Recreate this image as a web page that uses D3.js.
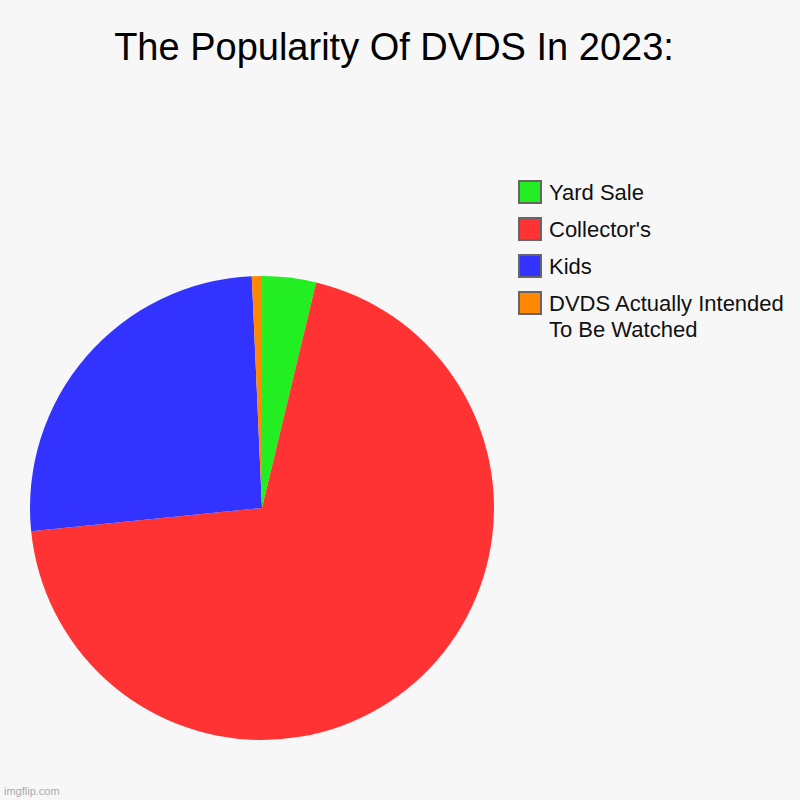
<!DOCTYPE html>
<html>
<head>
<meta charset="utf-8">
<script src="https://cdn.jsdelivr.net/npm/d3@7"></script>
<style>
  html, body { margin: 0; padding: 0; background: #f7f7f7; }
  svg { display: block; font-family: "Liberation Sans", Arial, sans-serif; }
</style>
</head>
<body>
<svg id="chart" width="800" height="800"></svg>
<script>
var categories = ['Yard Sale', "Collector's", 'Kids', 'DVDS Actually Intended To Be Watched']
var legendLines = [['Yard Sale'], ["Collector's"], ['Kids'], ['DVDS Actually Intended', 'To Be Watched']]
var values = [3.75, 69.65, 25.9, 0.7]
var colors = ['#22ee22', '#ff3333', '#3333ff', '#ff8800']

var svg = d3.select('#chart')

svg.append('rect')
  .attr('width', 800)
  .attr('height', 800)
  .attr('fill', '#f7f7f7')

svg.append('text')
  .attr('x', 394)
  .attr('y', 60)
  .attr('text-anchor', 'middle')
  .attr('font-size', 38)
  .attr('fill', '#000')
  .text('The Popularity Of DVDS In 2023:')

var cx = 262
,   cy = 508
,   radius = 232

var data = categories.map((c, i) => ({ name: c, value: values[i], color: colors[i] }))

var pie = d3.pie()
  .value((d) => d.value)
  .sort(null)

var arc = d3.arc()
  .innerRadius(0)
  .outerRadius(radius)

svg.append('g')
  .attr('transform', 'translate(' + cx + ',' + cy + ')')
  .selectAll('path')
  .data(pie(data))
  .enter()
  .append('path')
  .attr('d', arc)
  .attr('fill', (d) => d.data.color)

// legend
var legend = svg.append('g')
  .attr('transform', 'translate(519,181)')

var items = legend.selectAll('g')
  .data(data)
  .enter()
  .append('g')
  .attr('transform', (d, i) => 'translate(0,' + i * 37 + ')')

items.append('rect')
  .attr('width', 22)
  .attr('height', 22)
  .attr('fill', (d) => d.color)
  .attr('stroke', '#666')
  .attr('stroke-width', 2)

items.append('text')
  .attr('x', 30)
  .attr('font-size', 22)
  .attr('fill', '#111')
  .selectAll('tspan')
  .data((d, i) => legendLines[i])
  .enter()
  .append('tspan')
  .attr('x', 30)
  .attr('y', (d, j) => 19 + j * 26)
  .text((d) => d)

svg.append('text')
  .attr('x', 4)
  .attr('y', 795)
  .attr('font-size', 11)
  .attr('fill', '#aaa')
  .text('imgflip.com')
</script>
</body>
</html>
